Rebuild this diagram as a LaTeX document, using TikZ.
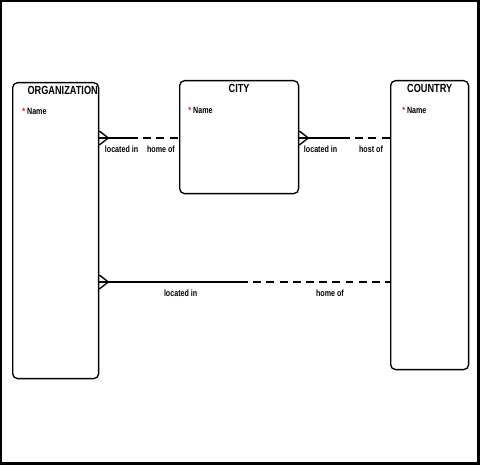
\documentclass[tikz,border=0pt]{standalone}
\usepackage{fontspec}
\setmainfont{Liberation Sans}[FakeStretch=0.78]
\usepackage{xcolor}
\usepackage{tikz}
\usetikzlibrary{positioning}

\tikzset{
    entity/.style={draw, rounded corners=2.8pt, line width=0.75pt, anchor=north west, inner sep=0pt},
    title/.style={inner sep=0pt, font=\fontsize{6.7}{8}\selectfont\bfseries},
    attr/.style={inner sep=0pt, font=\fontsize{5.2}{6}\selectfont\bfseries},
    role/.style={inner sep=0pt, below=4.2pt, font=\fontsize{5.2}{6}\selectfont\bfseries},
    rel/.style={line width=0.8pt},
    opt/.style={rel, dash pattern=on 4.5pt off 3pt, dash phase=4.5pt},
    crowfoot/.pic={\draw[rel] (0,-7) -- (9,0) -- (0,7);}
}

\begin{document}
\begin{tikzpicture}[x=0.02cm, y=-0.02cm]
    % page and frame
    \useasboundingbox (0,0) rectangle (480,465);
    \draw[line width=1.4pt] (1.2,1.2) rectangle (478.6,463.6);

    % entities
    \node[entity, minimum width=1.72cm, minimum height=5.92cm] (org) at (12,82) {};
    \node[entity, minimum width=2.38cm, minimum height=2.26cm] (city) at (179,80) {};
    \node[entity, minimum width=1.56cm, minimum height=5.78cm] (country) at (390,80) {};

    % titles
    \node[title, below=2.3pt of org.north, xshift=4pt] (orgtitle) {ORGANIZATION};
    \node[title, below=2.4pt of city.north] (citytitle) {CITY};
    \node[title, below=2.4pt of country.north] (countrytitle) {COUNTRY};

    % attributes
    \node[attr, below right=15pt and 5.7pt of org.north west] (orgname) {\textcolor{red}{*} Name};
    \node[attr, below right=15.5pt and 5.2pt of city.north west] (cityname) {\textcolor{red}{*} Name};
    \node[attr, below right=15.5pt and 6.8pt of country.north west] (countryname) {\textcolor{red}{*} Name};

    % where solid turns to dashed
    \coordinate (m1) at (138,138);
    \coordinate (m2) at (350,138);
    \coordinate (m3) at (248,282);

    % ORGANIZATION -- CITY
    \draw[rel] (org.east |- m1) -- node[role, pos=0.575] (loc1) {located in} (m1);
    \draw[opt] (m1) -- node[role, pos=0.56] (home1) {home of} (city.west |- m1);
    \pic at (org.east |- m1) {crowfoot};

    % CITY -- COUNTRY
    \draw[rel] (city.east |- m2) -- node[role, pos=0.42] (loc2) {located in} (m2);
    \draw[opt] (m2) -- node[role, pos=0.525] (host2) {host of} (country.west |- m2);
    \pic at (city.east |- m2) {crowfoot};

    % ORGANIZATION -- COUNTRY
    \draw[rel] (org.east |- m3) -- node[role, pos=0.547] (loc3) {located in} (m3);
    \draw[opt] (m3) -- node[role, pos=0.577] (home3) {home of} (country.west |- m3);
    \pic at (org.east |- m3) {crowfoot};
\end{tikzpicture}
\end{document}
